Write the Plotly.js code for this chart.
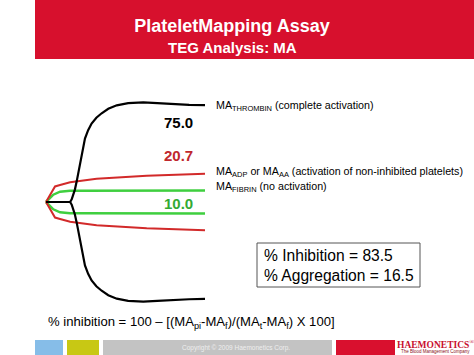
<!DOCTYPE html>
<html>
<head>
<meta charset="utf-8">
<script src="https://cdn.plot.ly/plotly-3.0.1.min.js"></script>
<style>html,body{margin:0;padding:0;background:#fff;}#chart{width:474px;height:355px;}</style>
</head>
<body>
<div id="chart"></div>
<script>
// TEG tracings: time (min) and amplitude (mm)
const thrombinTime = [0, 9.1, 9.7, 10.3, 10.9, 11.6, 12.2, 12.8, 13.7, 14.7, 15.9, 17.2, 19.0, 21.0, 23.5, 26.7, 31.0, 36.7, 42.0, 48.0, 54.0, 60.0];
const thrombinAmp  = [0, 0, 2.0, 5.0, 9.5, 16.0, 22.5, 29.0, 39.5, 48.5, 55.0, 60.0, 64.5, 67.9, 71.3, 74.0, 75.6, 76.2, 75.7, 74.9, 74.4, 74.2];
const adpTime = [0, 3.4, 5.3, 9.1, 19.1, 38.0, 60.0];
const adpAmp  = [0, 11.9, 13.0, 15.1, 17.7, 20.1, 21.7];
const fibrinTime = [0, 2.75, 5.3, 9.1, 12.8, 60.0];
const fibrinAmp  = [0, 5.6, 7.9, 8.6, 8.7, 8.8];

const maLabels = ['75.0', '20.7', '10.0'];
const inhibition = 83.5;
const aggregation = 16.5;

const W = 474, H = 355;
const px = v => v / W;
const py = v => 1 - v / H;

const half = a => a.map(v => v / 2);
const negHalf = a => a.map(v => -v / 2);

function pair(t, a, color, width) {
  return [
    {x: t, y: half(a), mode: 'lines', line: {color: color, width: width}, hoverinfo: 'skip', showlegend: false},
    {x: t, y: negHalf(a), mode: 'lines', line: {color: color, width: width}, hoverinfo: 'skip', showlegend: false}
  ];
}

const data = [
  ...pair(fibrinTime, fibrinAmp, '#3fcf3f', 2.5),
  ...pair(adpTime, adpAmp, '#d22a2a', 2),
  ...pair(thrombinTime, thrombinAmp, '#000000', 2.2)
];

const F = 'Liberation Sans, Arial, sans-serif';
const ann = (x, y, text, size, color, opts, fam) => Object.assign({
  x: px(x), y: py(y), xref: 'paper', yref: 'paper', text: text, showarrow: false,
  xanchor: 'left', yanchor: 'middle', font: {family: fam || F, size: size, color: color}
}, opts || {});

const layout = {
  width: W, height: H,
  margin: {l: 0, r: 0, t: 0, b: 0},
  paper_bgcolor: '#ffffff', plot_bgcolor: 'rgba(0,0,0,0)',
  xaxis: {range: [-17.36, 161.5], visible: false, fixedrange: true},
  yaxis: {range: [-58.54, 77.29], visible: false, fixedrange: true},
  title: {text: '<b>PlateletMapping Assay</b>', x: px(232), y: py(26), xref: 'paper', yref: 'paper',
          xanchor: 'center', yanchor: 'middle', font: {family: F, size: 18, color: '#ffffff'}},
  shapes: [
    {type: 'rect', xref: 'paper', yref: 'paper', x0: px(35), x1: 1, y0: py(59), y1: 1, fillcolor: '#d7102d', line: {width: 0}, layer: 'below'},
    {type: 'rect', xref: 'paper', yref: 'paper', x0: px(257), x1: px(420), y0: py(287), y1: py(243), fillcolor: 'rgba(0,0,0,0)', line: {color: '#555555', width: 1}},
    {type: 'rect', xref: 'paper', yref: 'paper', x0: px(35), x1: px(63), y0: 0, y1: py(340), fillcolor: '#86bde8', line: {width: 0}},
    {type: 'rect', xref: 'paper', yref: 'paper', x0: px(67), x1: px(99), y0: 0, y1: py(340), fillcolor: '#c8c814', line: {width: 0}},
    {type: 'rect', xref: 'paper', yref: 'paper', x0: px(103), x1: px(332), y0: 0, y1: py(340), fillcolor: '#c3c3c3', line: {width: 0}},
    {type: 'rect', xref: 'paper', yref: 'paper', x0: px(336), x1: px(395), y0: 0, y1: py(340), fillcolor: '#d9102e', line: {width: 0}}
  ],
  annotations: [
    ann(232, 47, '<b>TEG Analysis: MA</b>', 15, '#ffffff', {xanchor: 'center'}),
    ann(195, 122, '<b>' + maLabels[0] + '</b>', 15, '#000000', {xanchor: 'right'}),
    ann(195, 155, '<b>' + maLabels[1] + '</b>', 15, '#c0282d', {xanchor: 'right'}),
    ann(195, 203, '<b>' + maLabels[2] + '</b>', 15, '#33aa33', {xanchor: 'right'}),
    ann(214, 106, 'MA<sub>THROMBIN</sub> (complete activation)', 10.7, '#000000'),
    ann(214, 172, 'MA<sub>ADP</sub> or MA<sub>AA</sub> (activation of non-inhibited platelets)', 10.7, '#000000'),
    ann(214, 187, 'MA<sub>FIBRIN</sub> (no activation)', 10.7, '#000000'),
    ann(262, 255, '% Inhibition = ' + inhibition.toFixed(1), 15.6, '#000000'),
    ann(262, 275, '% Aggregation = ' + aggregation.toFixed(1), 15.6, '#000000'),
    ann(46, 322, '% inhibition = 100 \u2013 [(MA<sub>pi</sub>-MA<sub>f</sub>)/(MA<sub>t</sub>-MA<sub>f</sub>) X 100]', 13.1, '#000000'),
    ann(236, 348, 'Copyright \u00a9 2009 Haemonetics Corp.', 6.5, '#eeeeee', {xanchor: 'center'}),
    ann(435, 344, '<b>HAEMONETICS</b><sup>\u00ae</sup>', 9.5, '#c8102e', {xanchor: 'center', font: {family: 'Liberation Serif, Times New Roman, serif', size: 9.5, color: '#c8102e'}}),
    ann(435, 351, 'The Blood Management Company', 4.5, '#8a1020', {xanchor: 'center'})
  ]
};

Plotly.newPlot('chart', data, layout, {staticPlot: true, displayModeBar: false});
</script>
</body>
</html>
